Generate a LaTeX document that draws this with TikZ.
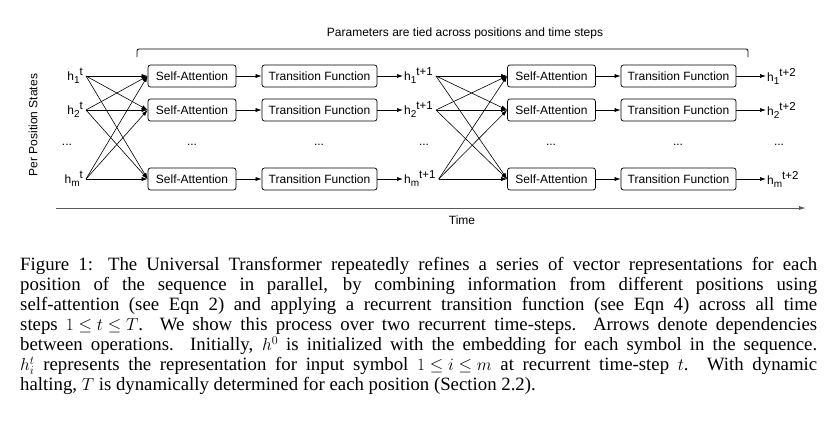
\documentclass[tikz,border=0pt]{standalone}
\usepackage{fontspec}
\setmainfont{Liberation Serif}
\newfontfamily\diag{Liberation Sans}
\usetikzlibrary{arrows.meta}
\newcommand{\hst}[2]{h\raisebox{-3pt}{\fontsize{10}{10}\selectfont #1}\raisebox{5pt}{\fontsize{11.5}{12}\selectfont #2}}
\begin{document}
\begin{tikzpicture}[x=1pt,y=-1pt,
  box/.style={draw,line width=0.7pt,rounded corners=2.5pt,minimum width=#1,minimum height=22pt,inner sep=0pt,font=\diag\fontsize{12}{14}\selectfont},
  lab/.style={font=\diag\fontsize{12}{14}\selectfont,inner sep=1pt},
  arr/.style={-{Latex[length=6pt,width=4pt]},line width=0.6pt},
  captext/.style={anchor=west,inner sep=0pt,font=\fontsize{18.8}{20}\selectfont}]
\useasboundingbox (0,0) rectangle (836,429);
% title & bracket
\node[lab] (title) at (465,33) {Parameters are tied across positions and time steps};
\draw[line width=0.8pt,rounded corners=2pt] (137,57) -- (137,49) -- (748,49) -- (748,57);
\node[lab,rotate=90] (pps) at (33,125) {Per Position States};
% rows
\foreach \r/\y/\s in {1/76/1,2/110/2,m/179/m}{
  \node[lab,anchor=east] (a\r) at (84,\y) {\hst{\s}{t}};
  \node[box=88pt] (sa\r) at (192,\y) {Self-Attention};
  \node[box=115pt] (tf\r) at (319.5,\y) {Transition Function};
  \node[lab,anchor=west] (b\r) at (403,\y) {\hst{\s}{t+1}};
  \node[box=88pt] (sb\r) at (551.5,\y) {Self-Attention};
  \node[box=115pt] (tg\r) at (678.5,\y) {Transition Function};
  \node[lab,anchor=west] (c\r) at (766,\y) {\hst{\s}{t+2}};
  \draw[arr] (sa\r) -- (tf\r);
  \draw[arr] (tf\r) -- (b\r);
  \draw[arr] (sb\r) -- (tg\r);
  \draw[arr] (tg\r) -- (c\r);
}
\foreach \r in {1,2,m}{\foreach \q in {1,2,m}{
  \draw[arr] ([xshift=2pt]a\r.east) -- (sa\q.west);
  \draw[arr] ([xshift=2pt]b\r.east) -- (sb\q.west);
}}
\node[lab] (d1) at (67,145) {...};
\node[lab] (d2) at (192,145) {...};
\node[lab] (d3) at (319,145) {...};
\node[lab] (d4) at (424,145) {...};
\node[lab] (d5) at (551,145) {...};
\node[lab] (d6) at (678,145) {...};
\node[lab] (d7) at (779,145) {...};
% time axis
\coordinate (t0) at (56,208);
\coordinate (t1) at (806,208);
\draw[-{Latex[length=7pt,width=4pt]},line width=0.9pt,gray!70!black] (t0) -- (t1);
\node[lab] (time) at (462,220) {Time};
% caption
\node[captext] (l1) at (20,266) {\makebox[797pt][s]{Figure 1: The Universal Transformer repeatedly refines a series of vector representations for each}};
\node[captext] (l2) at (20,286) {\makebox[797pt][s]{position of the sequence in parallel, by combining information from different positions using}};
\node[captext] (l3) at (20,306) {\makebox[797pt][s]{self-attention (see Eqn 2) and applying a recurrent transition function (see Eqn 4) across all time}};
\node[captext] (l4) at (20,326) {\makebox[797pt][s]{steps \mbox{$1 \le t \le T$}. We show this process over two recurrent time-steps. Arrows denote dependencies}};
\node[captext] (l5) at (20,346) {\makebox[797pt][s]{between operations. Initially, \mbox{$h^0$} is initialized with the embedding for each symbol in the sequence.}};
\node[captext] (l6) at (20,366) {\makebox[797pt][s]{\mbox{$h_i^t$} represents the representation for input symbol \mbox{$1 \le i \le m$} at recurrent time-step \mbox{$t$}. With dynamic}};
\node[captext] (l7) at (20,386) {halting, $T$ is dynamically determined for each position (Section 2.2).};
\end{tikzpicture}
\end{document}
